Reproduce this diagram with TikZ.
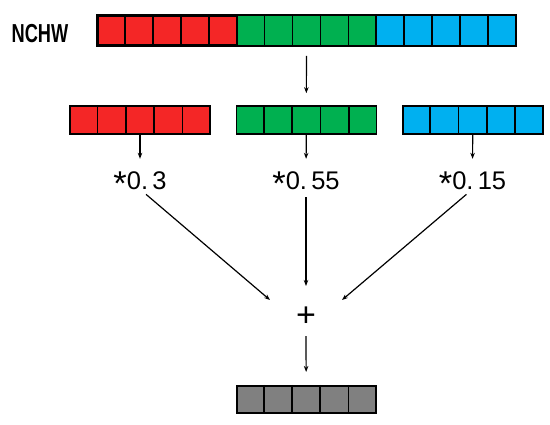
\documentclass[tikz,border=0pt]{standalone}
\usepackage{fontspec}
\setmainfont{Liberation Sans}
\usetikzlibrary{arrows.meta,calc}
\definecolor{cred}{RGB}{244,38,38}
\definecolor{cgreen}{RGB}{0,176,80}
\definecolor{cblue}{RGB}{0,176,240}
\definecolor{cgray}{RGB}{128,128,128}
\newcommand{\bigast}{\raisebox{-6pt}{\scalebox{1.35}{*}}}
\begin{document}
\begin{tikzpicture}[x=1pt,y=-1pt,
  bar/.style={draw=black,line width=1.6pt,inner sep=0pt,minimum height=28pt},
  arr/.style={-{Stealth[length=6pt,width=4.5pt]},line width=1.2pt},
  lbl/.style={inner sep=0pt,text height=18pt,text depth=0pt,font=\fontsize{25.5}{25.5}\selectfont}]
\useasboundingbox (0,0) rectangle (550,424);
% top bar
\node[bar,fill=cred,minimum width=417pt,minimum height=29pt] (top) at (306.5,30.5) {};
\fill[cgreen] ($(top.north west)!5/15!(top.north east)$) rectangle ($(top.south west)!10/15!(top.south east)$);
\fill[cblue] ($(top.north west)!10/15!(top.north east)$) rectangle (top.south east);
\draw[line width=1.6pt] (top.north west) rectangle (top.south east);
\foreach \i in {1,...,14}
  \draw[line width=1.6pt] ($(top.north west)!\i/15!(top.north east)$) -- ($(top.south west)!\i/15!(top.south east)$);
\node[font=\fontsize{26}{26}\selectfont\bfseries,inner sep=0pt] (nchw) at (40,34) {\scalebox{0.7}[1]{NCHW}};
% middle bars
\node[bar,fill=cred,minimum width=140pt] (r) at (140,120) {};
\node[bar,fill=cgreen,minimum width=140pt] (g) at (306.3,120) {};
\node[bar,fill=cblue,minimum width=140pt] (b) at (472.7,120) {};
\node[bar,fill=cgray,minimum width=139pt,minimum height=27.5pt] (o) at (306.2,399.5) {};
\foreach \n in {r,g,b,o}
  \foreach \i in {1,...,4}
    \draw[line width=1.6pt] ($(\n.north west)!\i/5!(\n.north east)$) -- ($(\n.south west)!\i/5!(\n.south east)$);
% labels
\node[lbl] (lr) at (140,180) {\bigast0.\,3};
\node[lbl] (lg) at (306,180) {\bigast0.\,55};
\node[lbl] (lb) at (472.5,180) {\bigast0.\,15};
\node[inner sep=0pt,anchor=base,font=\fontsize{34}{34}\selectfont] (plus) at (306,326) {+};
\coordinate (pl) at (270,300);
\coordinate (pm) at (306,286);
\coordinate (pr) at (342,300);
\coordinate (pb) at (306,336);
% arrows
\draw[arr,shorten <=10pt,shorten >=12pt] (top.south) -- (g.north);
\draw[arr,shorten >=12pt] (r.south) -- (lr.north);
\draw[arr,shorten >=12pt] (g.south) -- (lg.north);
\draw[arr,shorten >=12pt] (b.south) -- (lb.north);
\draw[arr,shorten <=8pt] (lr.south) -- (pl);
\draw[arr,shorten <=8pt] (lg.south) -- (pm);
\draw[arr,shorten <=8pt] (lb.south) -- (pr);
\draw[arr,shorten >=13pt] (pb) -- (o.north);
\end{tikzpicture}
\end{document}
